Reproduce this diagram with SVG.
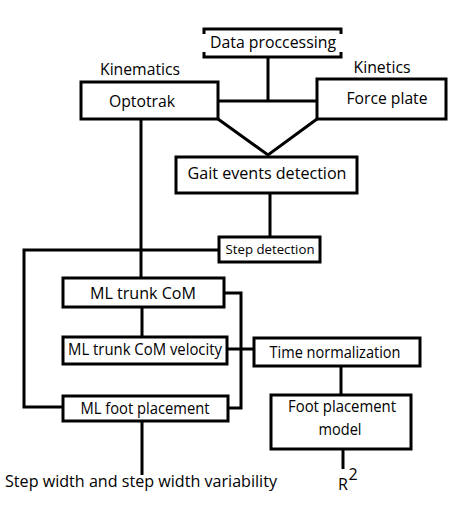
<svg xmlns="http://www.w3.org/2000/svg" width="474" height="530" viewBox="0 0 474 530">
<style>
.b{fill:#fff;stroke:#000;stroke-width:3}
.c{fill:none;stroke:#000;stroke-width:3}
text{font-family:"Open Sans","Noto Sans","Liberation Sans",sans-serif;font-size:16px;fill:#000;text-anchor:middle}
.s{font-size:13px}
</style>
<rect width="474" height="530" fill="#fff"/>
<g id="connectors" class="c">
<path d="M268,57V101M218,101H317"/>
<path d="M218,119L268,155L317,119"/>
<path d="M141,119V278"/>
<path d="M270,193V237"/>
<path d="M219,250H24V407H63"/>
<path d="M142,307V337"/>
<path d="M224,293H241V408H228"/>
<path d="M227,349H254"/>
<path d="M341,366V395"/>
<path d="M343,449V469"/>
<path d="M142,421V475"/>
</g>
<g id="data-processing">
<path class="c" d="M204,34V29H341V34M204,52V57H341V52"/>
<text x="273" y="48" textLength="126" lengthAdjust="spacingAndGlyphs">Data proccessing</text>
</g>
<g id="kinematics-label"><text x="140" y="75" textLength="80" lengthAdjust="spacingAndGlyphs">Kinematics</text></g>
<g id="kinetics-label"><text x="382" y="73" textLength="57" lengthAdjust="spacingAndGlyphs">Kinetics</text></g>
<g id="optotrak">
<rect class="b" x="81" y="82" width="137" height="37"/>
<text x="142" y="107" textLength="66" lengthAdjust="spacingAndGlyphs">Optotrak</text>
</g>
<g id="force-plate">
<rect class="b" x="317" y="79" width="129" height="40"/>
<text x="387" y="104" textLength="81" lengthAdjust="spacingAndGlyphs">Force plate</text>
</g>
<g id="gait-events">
<rect class="b" x="176" y="157" width="181" height="36"/>
<text x="267" y="179" textLength="159" lengthAdjust="spacingAndGlyphs">Gait events detection</text>
</g>
<g id="step-detection">
<rect class="b" x="219" y="237" width="101" height="25"/>
<text class="s" x="270" y="254" textLength="89" lengthAdjust="spacingAndGlyphs">Step detection</text>
</g>
<g id="ml-trunk-com">
<rect class="b" x="63" y="278" width="161" height="29"/>
<text x="143" y="299" textLength="106" lengthAdjust="spacingAndGlyphs">ML trunk CoM</text>
</g>
<g id="ml-trunk-com-velocity">
<rect class="b" x="63" y="337" width="164" height="27"/>
<text x="145" y="355" textLength="154" lengthAdjust="spacingAndGlyphs">ML trunk CoM velocity</text>
</g>
<g id="time-normalization">
<rect class="b" x="254" y="338" width="166" height="28"/>
<text x="335" y="358" textLength="131" lengthAdjust="spacingAndGlyphs">Time normalization</text>
</g>
<g id="ml-foot-placement">
<rect class="b" x="63" y="396" width="165" height="25"/>
<text x="145" y="414" textLength="129" lengthAdjust="spacingAndGlyphs">ML foot placement</text>
</g>
<g id="foot-placement-model">
<rect class="b" x="271" y="395" width="140" height="54"/>
<text x="342" y="412" textLength="108" lengthAdjust="spacingAndGlyphs">Foot placement</text>
<text x="340" y="435" textLength="43" lengthAdjust="spacingAndGlyphs">model</text>
</g>
<g id="step-width-output"><text x="141" y="487" textLength="272" lengthAdjust="spacingAndGlyphs">Step width and step width variability</text></g>
<g id="r2-output">
<text x="343" y="490">R</text>
<text x="353" y="480" font-size="13">2</text>
</g>
</svg>
